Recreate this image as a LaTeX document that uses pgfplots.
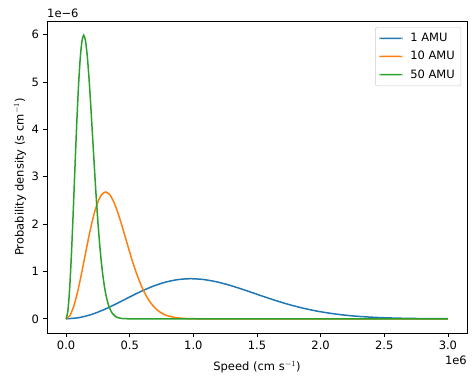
\documentclass[border=0pt]{standalone}
\usepackage{fontspec}
\setmainfont{DejaVu Sans}
\usepackage{pgfplots}
\pgfplotsset{compat=1.18}
\definecolor{c0}{HTML}{1F77B4}
\definecolor{c1}{HTML}{FF7F0E}
\definecolor{c2}{HTML}{2CA02C}
\begin{document}
\fontsize{11.5}{13.8}\selectfont
\begin{tikzpicture}
\begin{axis}[
  name=ax,
  scale only axis,
  width=420pt, height=312pt,
  xmin=-0.15, xmax=3.15,
  ymin=-0.2995, ymax=6.29,
  xtick={0,0.5,1,1.5,2,2.5,3},
  ytick={0,1,2,3,4,5,6},
  xticklabel style={/pgf/number format/.cd,fixed,fixed zerofill,precision=1},
  /pgf/number format/assume math mode=true,
  tick align=outside,
  tick pos=lower,
  major tick length=4.1pt,
  tick style={black, line width=0.7pt},
  axis line style={line width=0.7pt},
  xlabel={Speed (cm s$^{-1}$)},
  ylabel={Probability density (s cm$^{-1}$)},
  xlabel style={at={(rel axis cs:0.5,0)}, anchor=north, yshift=-24pt},
  ylabel style={at={(rel axis cs:0,0.5)}, anchor=south, yshift=17pt},
  every tick label/.append style={font=\fontsize{11.5}{13.8}\selectfont},
  label style={font=\fontsize{11.5}{13.8}\selectfont},
  legend style={at={(rel axis cs:1,1)}, anchor=north east, xshift=-6pt, yshift=-6pt,
    draw=black!20, rounded corners=2pt, fill=white,
    font=\fontsize{11.5}{13.8}\selectfont, inner xsep=4pt, inner ysep=4pt,
    row sep=4pt, /tikz/every odd column/.append style={column sep=6pt}},
  legend cell align=left,
  legend image code/.code={\fill[#1,draw=none] (0pt,-0.75pt) rectangle (23pt,0.75pt);},
]
\addplot[color=c0, line width=1.5pt, smooth, tension=0.4] coordinates {
(0,0) (0.098,0.0228) (0.196,0.0885) (0.294,0.1894) (0.392,0.3140) (0.490,0.4484)
(0.588,0.5784) (0.686,0.6913) (0.784,0.7771) (0.882,0.8298) (0.980,0.8472)
(1.078,0.8309) (1.176,0.7857) (1.274,0.7181) (1.372,0.6358) (1.470,0.5461)
(1.568,0.4557) (1.666,0.3699) (1.764,0.2922) (1.862,0.2249) (1.960,0.1687)
(2.058,0.1237) (2.156,0.0881) (2.254,0.0612) (2.352,0.0418) (2.450,0.0278) (2.548,0.0181)
(2.646,0.0114) (2.744,0.0071) (2.842,0.0043) (2.940,0.0026) (3.000,0.0019)
};
\addlegendentry{1 AMU}
\addplot[color=c1, line width=1.5pt, smooth, tension=0.4] coordinates {
(0,0) (0.031,0.0721) (0.062,0.2799) (0.093,0.5990) (0.124,0.9929) (0.155,1.4179)
(0.186,1.8291) (0.217,2.1861) (0.248,2.4576) (0.279,2.6242) (0.310,2.6791)
(0.341,2.6277) (0.372,2.4846) (0.403,2.2710) (0.434,2.0106) (0.465,1.7270)
(0.496,1.4412) (0.527,1.1696) (0.558,0.9241) (0.589,0.7112) (0.620,0.5335)
(0.651,0.3907) (0.682,0.2787) (0.713,0.1940) (0.744,0.1322) (0.775,0.0880) (0.806,0.0571)
(0.868,0.0225) (0.930,0.0081) (1.000,0.0025) (1.085,0.0004) (1.300,0) (2.000,0) (3.000,0)
};
\addlegendentry{10 AMU}
\addplot[color=c2, line width=1.5pt, smooth, tension=0.4] coordinates {
(0,0) (0.01386,0.1612) (0.02772,0.6258) (0.04158,1.3394) (0.05544,2.2202) (0.06930,3.1705)
(0.08315,4.0899) (0.09701,4.8883) (0.11087,5.4952) (0.12473,5.8678) (0.13859,5.9906)
(0.15245,5.8756) (0.16631,5.5558) (0.18017,5.0780) (0.19403,4.4959) (0.20789,3.8618)
(0.22174,3.2226) (0.23560,2.6154) (0.24946,2.0663) (0.26332,1.5903) (0.27718,1.1930)
(0.29104,0.8734) (0.30490,0.6232) (0.31876,0.4338) (0.33262,0.2956) (0.34648,0.1968) (0.36033,0.1277)
(0.38805,0.0503) (0.41577,0.0181) (0.44500,0.0060) (0.48507,0.0010) (0.554,0) (1.000,0) (2.000,0) (3.000,0)
};
\addlegendentry{50 AMU}
\end{axis}
\node[anchor=south west, inner sep=0pt, font=\fontsize{11.5}{13.8}\selectfont] at ([yshift=3pt]ax.north west) {1e−6};
\node[anchor=north east, inner sep=0pt, font=\fontsize{11.5}{13.8}\selectfont] at ([yshift=-23pt]ax.south east) {1e6};
\pgfresetboundingbox
\path[use as bounding box] ([xshift=-47pt,yshift=-51pt]ax.south west) rectangle ([xshift=7pt,yshift=21pt]ax.north east);
\end{tikzpicture}
\end{document}
